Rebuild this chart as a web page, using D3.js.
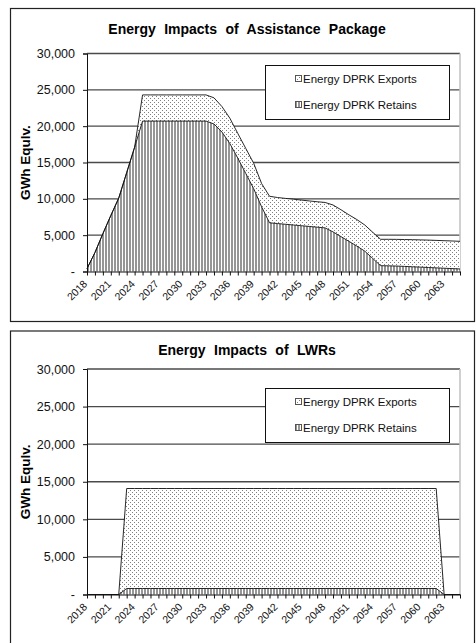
<!DOCTYPE html>
<html>
<head>
<meta charset="utf-8">
<script src="https://cdn.jsdelivr.net/npm/d3@7"></script>
<style>
  body { margin: 0; background: #fff; }
  svg { display: block; font-family: "Liberation Sans", Arial, sans-serif; }
</style>
</head>
<body>
<div id="chart"></div>
<script>
var svgWidth = 476;
var svgHeight = 643;

// categories
var years = [2018, 2019, 2020, 2021, 2022, 2023, 2024, 2025, 2026, 2027, 2028, 2029,
    2030, 2031, 2032, 2033, 2034, 2035, 2036, 2037, 2038, 2039, 2040, 2041,
    2042, 2043, 2044, 2045, 2046, 2047, 2048, 2049, 2050, 2051, 2052, 2053,
    2054, 2055, 2056, 2057, 2058, 2059, 2060, 2061, 2062, 2063, 2064, 2065];

// Assistance package (GWh equiv.)
var pkgRetains = [400, 2600, 5200, 7700, 10100, 13600, 17100, 20700, 20700, 20700, 20700, 20700,
    20700, 20700, 20700, 20700, 20300, 19200, 17600, 15600, 13500, 11400, 8900, 6700,
    6600, 6500, 6400, 6300, 6200, 6100, 6000, 5450, 4800, 4150, 3500, 2800,
    1800, 800, 780, 750, 700, 650, 600, 550, 500, 450, 400, 350];
var pkgExports = [0, 0, 0, 0, 0, 0, 0, 3600, 3600, 3600, 3600, 3600,
    3600, 3600, 3600, 3600, 3600, 3500, 3500, 3400, 3450, 3500, 3200, 3650,
    3580, 3560, 3550, 3530, 3510, 3500, 3500, 3700, 3700, 3650, 3650, 3600,
    3600, 3630, 3650, 3670, 3700, 3730, 3750, 3770, 3780, 3790, 3800, 3800];

// LWRs (GWh equiv.)
var lwrRetains = [0, 0, 0, 0, 0, 800, 800, 800, 800, 800, 800, 800,
    800, 800, 800, 800, 800, 800, 800, 800, 800, 800, 800, 800,
    800, 800, 800, 800, 800, 800, 800, 800, 800, 800, 800, 800,
    800, 800, 800, 800, 800, 800, 800, 800, 800, 0, 0, 0];
var lwrExports = [0, 0, 0, 0, 0, 13300, 13300, 13300, 13300, 13300, 13300, 13300,
    13300, 13300, 13300, 13300, 13300, 13300, 13300, 13300, 13300, 13300, 13300, 13300,
    13300, 13300, 13300, 13300, 13300, 13300, 13300, 13300, 13300, 13300, 13300, 13300,
    13300, 13300, 13300, 13300, 13300, 13300, 13300, 13300, 13300, 0, 0, 0];

var yTicks = [0, 5000, 10000, 15000, 20000, 25000, 30000];
var labelYears = [2018, 2021, 2024, 2027, 2030, 2033, 2036, 2039, 2042, 2045, 2048, 2051, 2054, 2057, 2060, 2063];
var legendLabels = ["Energy DPRK Exports", "Energy DPRK Retains"];

var svg = d3.select("#chart")
    .append("svg")
    .attr("width", svgWidth)
    .attr("height", svgHeight);

// fill patterns
var defs = svg.append("defs");

var stripes = defs.append("pattern")
    .attr("id", "stripes")
    .attr("patternUnits", "userSpaceOnUse")
    .attr("width", 3)
    .attr("height", 4);
stripes.append("rect").attr("width", 3).attr("height", 4).attr("fill", "#fff");
stripes.append("rect").attr("width", 2).attr("height", 4).attr("fill", "#969696");

var dots = defs.append("pattern")
    .attr("id", "dots")
    .attr("patternUnits", "userSpaceOnUse")
    .attr("width", 4)
    .attr("height", 4);
dots.append("rect").attr("width", 4).attr("height", 4).attr("fill", "#fff");
dots.append("rect").attr("x", 0).attr("y", 0).attr("width", 1).attr("height", 1).attr("fill", "#808080");
dots.append("rect").attr("x", 2).attr("y", 2).attr("width", 1).attr("height", 1).attr("fill", "#808080");

function drawChart(opts) {
    var g = svg.append("g");

    // outer frame
    g.append("rect")
        .attr("x", 10.5)
        .attr("y", opts.boxTop)
        .attr("width", 464)
        .attr("height", opts.boxHeight)
        .attr("fill", "#fff")
        .attr("stroke", "#222")
        .attr("stroke-width", 1.2);

    var xScale = d3.scalePoint()
        .domain(years)
        .range([87, 460]);

    var yScale = d3.scaleLinear()
        .domain([0, 30000])
        .range([opts.plotBottom, opts.plotTop]);

    // gridlines
    g.selectAll(".grid")
        .data(yTicks.slice(1))
        .enter()
        .append("line")
        .attr("x1", 87)
        .attr("x2", 460)
        .attr("y1", d => yScale(d))
        .attr("y2", d => yScale(d))
        .attr("stroke", "#4a4a4a")
        .attr("stroke-width", 1.4);

    // right border of plot area
    g.append("line")
        .attr("x1", 460)
        .attr("x2", 460)
        .attr("y1", yScale(30000))
        .attr("y2", yScale(0))
        .attr("stroke", "#c4c4c4")
        .attr("stroke-width", 1.6);

    var table = years.map(function (yr, i) {
        return { year: yr, retains: opts.retains[i], exports: opts.exports[i] };
    });

    var stacked = d3.stack().keys(["retains", "exports"])(table);

    var area = d3.area()
        .x(d => xScale(d.data.year))
        .y0(d => yScale(d[0]))
        .y1(d => yScale(d[1]));

    var topLine = d3.line()
        .x(d => xScale(d.data.year))
        .y(d => yScale(d[1]));

    var fills = ["url(#stripes)", "url(#dots)"];

    g.selectAll(".layer")
        .data(stacked)
        .enter()
        .append("path")
        .attr("d", area)
        .attr("fill", (d, i) => fills[i]);

    g.selectAll(".edge")
        .data(stacked)
        .enter()
        .append("path")
        .attr("d", topLine)
        .attr("fill", "none")
        .attr("stroke", "#111")
        .attr("stroke-width", 0.9);

    // axes
    var leftAxis = d3.axisLeft(yScale)
        .tickValues(yTicks)
        .tickSize(4)
        .tickPadding(8)
        .tickFormat(d => d === 0 ? "-" : d3.format(",")(d));

    var yAxis = g.append("g")
        .attr("transform", "translate(87,0)")
        .call(leftAxis);
    yAxis.select(".domain").attr("stroke", "#111");
    yAxis.selectAll(".tick line").attr("stroke", "#111");
    yAxis.selectAll("text")
        .attr("font-size", "12.5px")
        .attr("fill", "#111")
        .attr("font-family", "Liberation Sans, Arial, sans-serif");

    var bottomAxis = d3.axisBottom(xScale)
        .tickSize(4)
        .tickSizeOuter(0)
        .tickFormat(d => labelYears.indexOf(d) >= 0 ? d : "");

    var xAxis = g.append("g")
        .attr("transform", `translate(0, ${opts.plotBottom})`)
        .call(bottomAxis);
    xAxis.select(".domain").attr("stroke", "#111");
    xAxis.selectAll(".tick line").attr("stroke", "#111");
    xAxis.selectAll("text")
        .attr("font-size", "10.5px")
        .attr("fill", "#111")
        .attr("font-family", "Liberation Sans, Arial, sans-serif")
        .attr("text-anchor", "end")
        .attr("y", 0)
        .attr("dy", 0)
        .attr("transform", "translate(0.5, 13) rotate(-45)");

    // title
    g.append("text")
        .attr("x", 247)
        .attr("y", opts.titleY)
        .attr("text-anchor", "middle")
        .attr("font-size", "14px")
        .attr("font-weight", "bold")
        .attr("word-spacing", "4.5px")
        .text(opts.title);

    // y axis title
    g.append("text")
        .attr("transform", `translate(30, ${(opts.plotTop + opts.plotBottom) / 2}) rotate(-90)`)
        .attr("text-anchor", "middle")
        .attr("font-size", "13.5px")
        .attr("font-weight", "bold")
        .text("GWh Equlv.");

    // legend
    var legend = g.append("g")
        .attr("transform", `translate(265, ${opts.legendTop})`);

    legend.append("rect")
        .attr("x", 0.5)
        .attr("y", 0.5)
        .attr("width", 184)
        .attr("height", 54)
        .attr("fill", "#fff")
        .attr("stroke", "#111")
        .attr("stroke-width", 1);

    var legendFills = ["url(#dots)", "url(#stripes)"];

    legendLabels.forEach(function (label, i) {
        var row = legend.append("g")
            .attr("transform", `translate(0, ${14 + i * 26})`);
        row.append("rect")
            .attr("x", 30.5)
            .attr("y", -3.5)
            .attr("width", 6)
            .attr("height", 6)
            .attr("fill", legendFills[i])
            .attr("stroke", "#555")
            .attr("stroke-width", 1);
        row.append("text")
            .attr("x", 38)
            .attr("y", 4)
            .attr("font-size", "11.5px")
            .attr("fill", "#111")
            .text(label);
    });
}

drawChart({
    title: "Energy Impacts of Assistance Package",
    boxTop: 8.5,
    boxHeight: 313,
    plotTop: 53.5,
    plotBottom: 271.5,
    titleY: 34,
    legendTop: 65,
    retains: pkgRetains,
    exports: pkgExports
});

drawChart({
    title: "Energy Impacts of LWRs",
    boxTop: 331,
    boxHeight: 330,
    plotTop: 369,
    plotBottom: 594.5,
    titleY: 355,
    legendTop: 388,
    retains: lwrRetains,
    exports: lwrExports
});
</script>
</body>
</html>
